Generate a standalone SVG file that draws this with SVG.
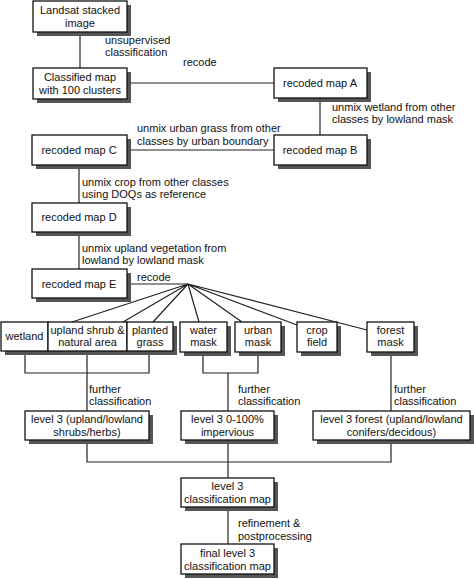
<svg xmlns="http://www.w3.org/2000/svg" width="474" height="579" viewBox="0 0 474 579">
<style>
.sh{fill:#555}
.bx{fill:#fff;stroke:#111;stroke-width:1.3}
text{font-family:"Liberation Sans",Arial,sans-serif;font-size:11px;fill:#111}
.c{text-anchor:middle}
#connectors path{fill:none;stroke:#222;stroke-width:1.2}
</style>
<rect width="474" height="579" fill="#fff"/>
<g id="connectors">
<path d="M80,32V68"/>
<path d="M127,83H274"/>
<path d="M320,98V135"/>
<path d="M127,150H274"/>
<path d="M79,165V203"/>
<path d="M79,232V269"/>
<path d="M127,284H188"/>
<path d="M188,284L72,322M188,284L123,322M188,284L153,322M188,284L199,322M188,284L242,322M188,284L297,325M188,284L367,330"/>
<path d="M25,351V373H149V351M87,351V411"/>
<path d="M203,351V373H258V351M228,373V411"/>
<path d="M391,351V411"/>
<path d="M87,440V462H391V440M228,440V478"/>
<path d="M228,507V544"/>
</g>
<g id="landsat"><rect class="sh" x="37" y="5" width="94" height="31"/><rect class="bx" x="33" y="1" width="94" height="31"/><text class="c" x="80" y="14">Landsat stacked</text><text class="c" x="80" y="27">image</text></g>
<g id="classified"><rect class="sh" x="37" y="72" width="94" height="31"/><rect class="bx" x="33" y="68" width="94" height="31"/><text class="c" x="80" y="81">Classified map</text><text class="c" x="80" y="94">with 100 clusters</text></g>
<g id="mapA"><rect class="sh" x="278" y="72" width="93" height="30"/><rect class="bx" x="274" y="68" width="93" height="30"/><text class="c" x="320" y="87">recoded map A</text></g>
<g id="mapB"><rect class="sh" x="278" y="139" width="93" height="30"/><rect class="bx" x="274" y="135" width="93" height="30"/><text class="c" x="320" y="154">recoded map B</text></g>
<g id="mapC"><rect class="sh" x="36" y="139" width="95" height="30"/><rect class="bx" x="32" y="135" width="95" height="30"/><text class="c" x="79" y="154">recoded map C</text></g>
<g id="mapD"><rect class="sh" x="36" y="207" width="95" height="29"/><rect class="bx" x="32" y="203" width="95" height="29"/><text class="c" x="79" y="221">recoded map D</text></g>
<g id="mapE"><rect class="sh" x="36" y="273" width="95" height="29"/><rect class="bx" x="32" y="269" width="95" height="29"/><text class="c" x="79" y="288">recoded map E</text></g>
<g id="lowlandGroup"><rect class="sh" x="5" y="326" width="172" height="29"/>
<g id="wetland"><rect class="bx" x="1" y="322" width="47" height="29"/><text class="c" x="24.5" y="340">wetland</text></g>
<g id="upland"><rect class="bx" x="48" y="322" width="79" height="29"/><text class="c" x="87.5" y="334">upland shrub &amp;</text><text class="c" x="87.5" y="346">natural area</text></g>
<g id="planted"><rect class="bx" x="127" y="322" width="46" height="29"/><text class="c" x="150" y="334">planted</text><text class="c" x="150" y="346">grass</text></g>
</g>
<g id="water"><rect class="sh" x="184" y="326" width="47" height="30"/><rect class="bx" x="180" y="322" width="47" height="30"/><text class="c" x="203.5" y="334">water</text><text class="c" x="203.5" y="346">mask</text></g>
<g id="urban"><rect class="sh" x="239" y="326" width="46" height="30"/><rect class="bx" x="235" y="322" width="46" height="30"/><text class="c" x="258" y="334">urban</text><text class="c" x="258" y="346">mask</text></g>
<g id="crop"><rect class="sh" x="301" y="326" width="40" height="30"/><rect class="bx" x="297" y="322" width="40" height="30"/><text class="c" x="317" y="334">crop</text><text class="c" x="317" y="346">field</text></g>
<g id="forest"><rect class="sh" x="371" y="326" width="47" height="30"/><rect class="bx" x="367" y="322" width="47" height="30"/><text class="c" x="390.5" y="334">forest</text><text class="c" x="390.5" y="346">mask</text></g>
<g id="l3shrub"><rect class="sh" x="29" y="415" width="124" height="29"/><rect class="bx" x="25" y="411" width="124" height="29"/><text class="c" x="87" y="423">level 3 (upland/lowland</text><text class="c" x="87" y="436">shrubs/herbs)</text></g>
<g id="l3imp"><rect class="sh" x="185" y="415" width="93" height="29"/><rect class="bx" x="181" y="411" width="93" height="29"/><text class="c" x="227.5" y="423">level 3 0-100%</text><text class="c" x="227.5" y="436">impervious</text></g>
<g id="l3forest"><rect class="sh" x="317" y="415" width="157" height="29"/><rect class="bx" x="313" y="411" width="157" height="29"/><text class="c" x="391.5" y="423">level 3 forest (upland/lowland</text><text class="c" x="391.5" y="436">conifers/decidous)</text></g>
<g id="l3map"><rect class="sh" x="185" y="482" width="93" height="29"/><rect class="bx" x="181" y="478" width="93" height="29"/><text class="c" x="227.5" y="490">level 3</text><text class="c" x="227.5" y="503">classification map</text></g>
<g id="final"><rect class="sh" x="185" y="548" width="93" height="30"/><rect class="bx" x="181" y="544" width="93" height="30"/><text class="c" x="227.5" y="557">final level 3</text><text class="c" x="227.5" y="570">classification map</text></g>
<g id="labels">
<text x="105" y="44">unsupervised</text><text x="105" y="56">classification</text>
<text x="183" y="66">recode</text>
<text x="332" y="111">unmix wetland from other</text><text x="332" y="123">classes by lowland mask</text>
<text x="137" y="132">unmix urban grass from other</text><text x="137" y="145">classes by urban boundary</text>
<text x="82" y="186">unmix crop from other classes</text><text x="82" y="198">using DOQs as reference</text>
<text x="82" y="252">unmix upland vegetation from</text><text x="82" y="264">lowland by lowland mask</text>
<text x="137" y="281">recode</text>
<text x="89" y="393">further</text><text x="89" y="405">classification</text>
<text x="238" y="393">further</text><text x="238" y="405">classification</text>
<text x="394" y="393">further</text><text x="394" y="405">classification</text>
<text x="238" y="527">refinement &amp;</text><text x="238" y="540">postprocessing</text>
</g>
</svg>
